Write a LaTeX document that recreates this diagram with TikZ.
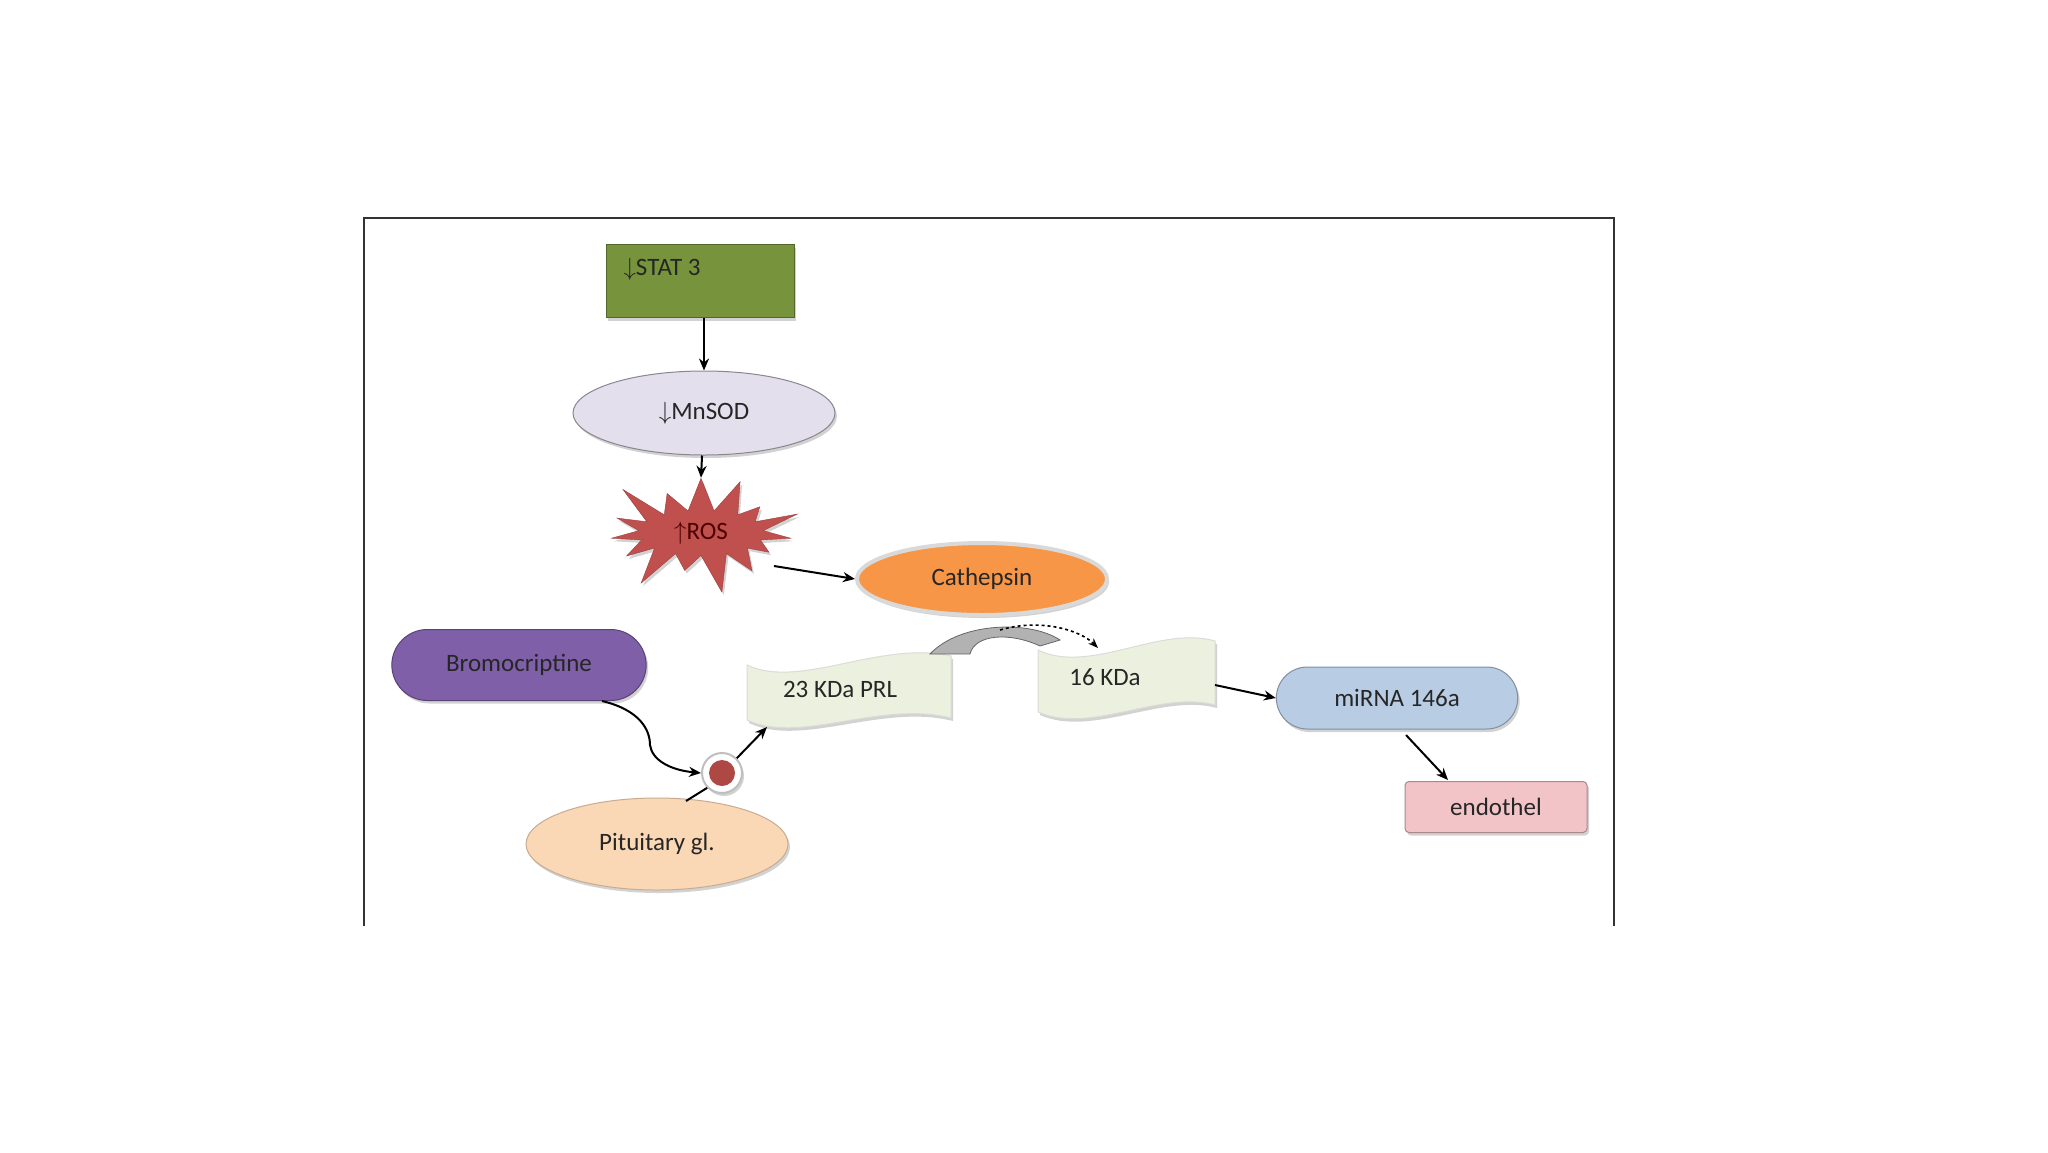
\documentclass[tikz,border=0pt]{standalone}
\usepackage{fontspec}
\setmainfont{Carlito}
\usetikzlibrary{shapes.geometric,shapes.misc,shapes.symbols,arrows.meta,shadows}
\definecolor{stat}{HTML}{77933C}
\definecolor{mnsod}{HTML}{E4DFEC}
\definecolor{ros}{HTML}{C0504D}
\definecolor{cath}{HTML}{F79646}
\definecolor{bromo}{HTML}{7E5FA8}
\definecolor{prl}{HTML}{EBF1DE}
\definecolor{mirna}{HTML}{B8CCE4}
\definecolor{endo}{HTML}{F2C4C8}
\definecolor{pit}{HTML}{FAD7B5}
\tikzset{
 x=1pt,y=-1pt,
 txt/.style={font=\fontsize{25}{29}\selectfont,text=black!85},
 arr/.style={-{Stealth[length=12pt,width=10pt]},line width=2pt},
 sh/.style={drop shadow={opacity=0.35,shadow xshift=2pt,shadow yshift=-3pt}},
 wave/.style={fill=prl,draw=prl!70!black!40,line width=1pt,sh},
}
\begin{document}
\begin{tikzpicture}
\useasboundingbox (0,0) rectangle (2048,1152);
\fill[white] (0,0) rectangle (2048,1152);
% frame (open at bottom)
\draw[line width=1.5pt,black!80] (364,926) -- (364,218) -- (1614,218) -- (1614,926);
% STAT3
\node[sh,draw=stat!70!black,fill=stat,line width=1pt,minimum width=188pt,minimum height=73pt] (stat) at (700,281) {};
\node[txt,anchor=west] (statt) at (620,269) {$\downarrow$STAT 3};
% MnSOD
\node[ellipse,sh,draw=mnsod!60!black,fill=mnsod,line width=1pt,minimum width=262pt,minimum height=84pt,txt] (mnsod) at (704,413) {$\downarrow$MnSOD};
% ROS
\node[starburst,starburst points=15,starburst point height=45pt,sh,fill=ros,draw=ros!80!black,minimum width=215pt,minimum height=135pt,inner sep=0pt,txt,text=black!70!red] (ros) at (701,533) {$\uparrow$ROS};
% Cathepsin
\node[ellipse,draw=white!85!black,line width=4pt,fill=cath,minimum width=250pt,minimum height=72pt,txt,sh] (cath) at (982,579) {Cathepsin};
% Bromocriptine
\node[rounded rectangle,sh,fill=bromo,draw=bromo!70!black,line width=1pt,minimum width=261pt,minimum height=71pt,txt] (bromo) at (519,665) {Bromocriptine};
% 23 KDa PRL
\path[wave] (747,665) .. controls (800,690) and (880,640) .. (951,656) -- (951,718)
  .. controls (880,700) and (800,745) .. (747,720) -- cycle;
\node[txt] (prl) at (840,689) {23 KDa PRL};
% 16 KDa
\path[wave] (1038,650) .. controls (1090,675) and (1160,625) .. (1215,641) -- (1215,705)
  .. controls (1160,690) and (1090,735) .. (1038,712) -- cycle;
\node[txt] (kda) at (1105,677) {16 KDa};
% miRNA
\node[rounded rectangle,sh,fill=mirna,draw=mirna!70!black,line width=1pt,minimum width=248pt,minimum height=62pt,txt] (mirna) at (1397,698) {miRNA 146a};
% endothel
\node[rounded corners=4pt,sh,fill=endo,draw=endo!70!black,line width=1pt,minimum width=182pt,minimum height=51pt,txt] (endo) at (1496,807) {endothel};
% Pituitary
\node[ellipse,sh,fill=pit,draw=pit!80!black,line width=1pt,minimum width=262pt,minimum height=92pt,txt] (pit) at (657,844) {Pituitary gl.};
% receptor dot
\node[circle,fill=white,draw=black!25,line width=2pt,minimum size=40pt,sh] (ring) at (722,773) {};
\node[circle,fill=ros!90!black,minimum size=26pt,inner sep=0pt] (dot) at (722,773) {};
% cleavage arc
\fill[black!30,draw=black!60,line width=0.8pt] (930,654) .. controls (960,622) and (1030,620) .. (1060,640)
  -- (1040,646) .. controls (1010,632) and (975,634) .. (970,654) -- cycle;
\coordinate (c1) at (1000,630);
\coordinate (c2) at (1098,648);
\draw[black,line width=1.6pt,dashed,-{Stealth[length=10pt]}] (c1) .. controls (1040,618) and (1080,630) .. (c2);
% arrows
\draw[arr] (stat.south -| mnsod.north) -- (mnsod.north);
\draw[arr] (mnsod) -- (ros.north);
\draw[arr] (774,566) -- (cath.west);
\draw[arr] (602,701) .. controls (640,710) and (650,730) .. (650,745) .. controls (652,760) and (670,770) .. (ring.west);
\draw[arr] (ring.north east) -- (767,727);
\draw[line width=2pt] (686,801) -- (ring.south west);
\draw[arr] (1215,685) -- (mirna.west);
\draw[arr] (1406,735) -- (1448,780);
\end{tikzpicture}
\end{document}
